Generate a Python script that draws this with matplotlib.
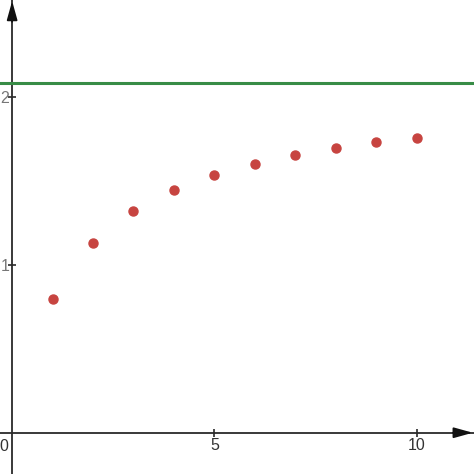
import matplotlib.pyplot as plt

plt.rcParams['font.family'] = ['Liberation Sans', 'DejaVu Sans']

# data
n = [1, 2, 3, 4, 5, 6, 7, 8, 9, 10]
a_n = [0.797, 1.131, 1.322, 1.447, 1.536, 1.604, 1.656, 1.696, 1.732, 1.759]
limit = 2.083

x_ticks = [5, 10]
y_ticks = [1, 2]

fig = plt.figure(figsize=(4.74, 4.74), dpi=100)
ax = fig.add_axes([0, 0, 1, 1])
ax.set_xlim(-0.3, 11.42)
ax.set_ylim(-0.246, 2.58)

# axes through the origin
for side in ['top', 'right']:
    ax.spines[side].set_visible(False)
ax.spines['left'].set_position(('data', 0))
ax.spines['bottom'].set_position(('data', 0))
for side in ['left', 'bottom']:
    ax.spines[side].set_linewidth(1.3)
    ax.spines[side].set_color('#2a2a2a')

# arrow heads
head = dict(arrowstyle='-|>,head_length=1.15,head_width=0.32', color='#111111',
            lw=1.3, mutation_scale=10, shrinkA=0, shrinkB=0)
ax.annotate('', xy=(11.39, 0), xytext=(10.9, 0), arrowprops=head, annotation_clip=False)
ax.annotate('', xy=(0, 2.574), xytext=(0, 2.45), arrowprops=head, annotation_clip=False)

ax.set_xticks(x_ticks)
ax.set_xticklabels([str(t) for t in x_ticks])
ax.set_yticks(y_ticks)
ax.set_yticklabels([str(t) for t in y_ticks])
ax.tick_params(axis='x', direction='inout', length=6, width=1.2, colors='#2a2a2a',
               labelsize=11.5, pad=1, labelcolor='#333333')
ax.tick_params(axis='y', direction='inout', length=6, width=1.2, colors='#2a2a2a',
               labelsize=11.5, pad=-1, labelcolor='#777777')
ax.text(-0.1, -0.035, '0', ha='right', va='top', fontsize=11.5, color='#333333')

ax.axhline(limit, color='#388c46', linewidth=2.2, zorder=3)
ax.plot(n, a_n, 'o', color='#c74440', markersize=6.5, zorder=4, clip_on=False)

fig.savefig('out.png', dpi=100)
